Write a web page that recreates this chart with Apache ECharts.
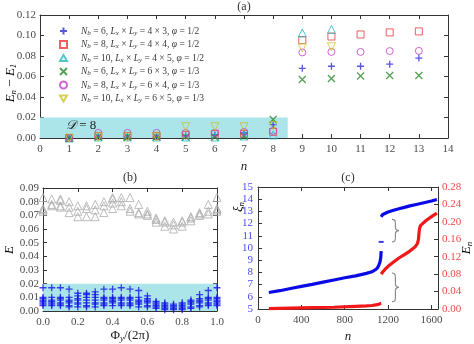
<!DOCTYPE html>
<html><head><meta charset="utf-8">
<script src="https://cdn.jsdelivr.net/npm/echarts@6/dist/echarts.min.js"></script>
<style>html,body{margin:0;padding:0;background:#fff}#c{width:474px;height:344px}</style>
</head><body><div id="c"></div>
<script>
// ---------- Panel (a) ----------
const aN13 = [1,2,3,4,5,6,7,8,9,10,11,12,13];
const aN10 = [1,2,3,4,5,6,7,8,9,10];
const aPlus    = [0,0.001,0.001,0.001,0.002,0.003,0.005,0.013,0.068,0.070,0.070,0.072,0.078];
const aSquare  = [0,0.002,0.002,0.002,0.003,0.004,0.004,0.006,0.0955,0.099,0.101,0.103,0.104];
const aTriUp   = [0,0.001,0.001,0.001,0.001,0.001,0.002,0.003,0.1025,0.106];
const aCross   = [0,0.001,0.001,0.001,0.001,0.001,0.002,0.018,0.057,0.058,0.0605,0.061,0.061];
const aCircle  = [0,0.005,0.005,0.005,0.005,0.005,0.006,0.007,0.0835,0.084,0.084,0.0848,0.085];
const aTriDown = [0,0.001,0.001,0.001,0.011,0.011,0.011,0.012,0.088,0.089];
const aNames = ['6,4,3,1/2','8,4,4,1/2','10,4,5,1/2','6,6,3,1/3','8,6,4,1/3','10,6,5,1/3'];
const aShade = [0, 8.5, 0, 0.02];

// ---------- Panel (b) ----------
const bPhi = [0,0.05,0.1,0.15,0.2,0.25,0.3,0.35,0.4,0.45,0.5,0.55,0.6,0.65,0.7,0.75,0.8,0.85,0.9,0.95,1.0];
const bHigh = [
 [0.083,0.075,0.074,0.073],[0.082,0.078,0.077],[0.082,0.081,0.077,0.076],[0.080,0.076,0.072],
 [0.077,0.073,0.069],[0.077,0.075,0.069],[0.078,0.074,0.069],[0.080,0.077,0.072],
 [0.083,0.082,0.079,0.075],[0.083,0.080,0.077],[0.083,0.075,0.073],[0.078,0.072,0.071],
 [0.073,0.071,0.070],[0.068,0.067,0.065],[0.066,0.065,0.062],[0.065,0.063,0.060],
 [0.066,0.065,0.062],[0.069,0.068,0.066],[0.072,0.071,0.070],[0.078,0.073,0.071],
 [0.083,0.075,0.074,0.073]];
const bLow = [
 [0.017,0.010,0.009,0.008,0.007,0.006,0.005,0.004],[0.017,0.010,0.008,0.007,0.006,0.005,0.004],
 [0.017,0.010,0.009,0.008,0.006,0.005,0.004],[0.016,0.010,0.008,0.007,0.006,0.004,0.003],
 [0.013,0.011,0.009,0.008,0.006,0.005,0.003],[0.013,0.012,0.010,0.008,0.006,0.004,0.003],
 [0.014,0.012,0.010,0.008,0.006,0.005,0.003],[0.016,0.010,0.009,0.008,0.006,0.005,0.004],
 [0.016,0.010,0.009,0.008,0.007,0.006,0.004],[0.017,0.010,0.009,0.008,0.006,0.005,0.004],
 [0.016,0.010,0.009,0.008,0.006,0.005,0.004],[0.015,0.010,0.008,0.007,0.006,0.005,0.003],
 [0.011,0.009,0.008,0.007,0.006,0.004,0.003],[0.007,0.006,0.005,0.004,0.003,0.002],
 [0.006,0.005,0.004,0.003,0.002,0.001],[0.005,0.004,0.003,0.002,0.001],
 [0.006,0.005,0.004,0.003,0.002,0.001],[0.008,0.007,0.006,0.005,0.003,0.002],
 [0.012,0.009,0.008,0.007,0.006,0.004,0.003],[0.015,0.010,0.009,0.008,0.006,0.005,0.004],
 [0.017,0.010,0.009,0.008,0.007,0.006,0.005,0.004]];
const bShade = [0, 1, 0, 0.02];

// ---------- Panel (c) ----------
const cBlueLowN  = [100,200,300,400,500,600,700,800,900,1000,1050,1080,1100,1115,1125,1132,1136];
const cBlueLowXi = [6.35,6.5,6.68,6.85,7.02,7.2,7.38,7.56,7.72,7.92,8.05,8.2,8.35,8.6,8.85,9.2,9.75];
const cBlueMidN  = [1136];
const cBlueMidXi = [10.5];
const cBlueHighN  = [1136,1150,1200,1250,1300,1350,1400,1450,1500,1550,1600,1650];
const cBlueHighXi = [12.55,12.75,12.95,13.1,13.22,13.33,13.45,13.55,13.65,13.75,13.85,13.97];
const cRedLowN = [100,300,500,700,900,1000,1050,1100,1136];
const cRedLowE = [0.001,0.002,0.003,0.004,0.006,0.007,0.008,0.010,0.013];
const cRedHighN = [1136,1150,1175,1200,1250,1300,1350,1400,1450,1470,1480,1485,1490,1500,1550,1600,1650];
const cRedHighE = [0.080,0.085,0.092,0.098,0.108,0.117,0.125,0.133,0.143,0.150,0.160,0.175,0.185,0.192,0.203,0.212,0.220];
const cBraces = [[1235,10.5,12.35],[1235,5.6,7.95]];

// ---------- styling ----------
const FONT = 'Liberation Serif';
const AX = '#333', LBL = '#4a4a4a';
const zip = (xs, ys) => ys.map((y, i) => [xs[i], y]);
const PLUS = 'path://M5,0L5,10M0,5L10,5';
const CROSS = 'path://M0,0L10,10M10,0L0,10';
const TDOWN = 'path://M0,0L10,0L5,8.66Z';
const TUP = 'path://M5,0L10,8.66L0,8.66Z';
const SHADE = '#abe5ea';

function axis(base, extra) {
  return Object.assign({
    type: 'value',
    axisLine: {show: true, onZero: false, lineStyle: {color: AX, width: 1}},
    axisTick: {show: true, inside: true, length: 4, lineStyle: {color: AX}},
    splitLine: {show: false},
    axisLabel: {fontFamily: FONT, fontSize: 11, color: LBL, margin: 6}
  }, base, extra || {});
}
function mirror(base) {
  return axis(base, {axisLabel: {show: false}});
}
const richBase = {
  i: {fontFamily: FONT, fontStyle: 'italic', fontSize: 13, color: '#222'},
  r: {fontFamily: FONT, fontSize: 13, color: '#222'},
  s: {fontFamily: FONT, fontStyle: 'italic', fontSize: 9, color: '#222', verticalAlign: 'bottom', padding: [5, 0, 0, 0]}
};
function richColored(c) {
  return {
    i: Object.assign({}, richBase.i, {color: c}),
    r: Object.assign({}, richBase.r, {color: c}),
    s: Object.assign({}, richBase.s, {color: c})
  };
}
const legRich = {
  i: {fontFamily: FONT, fontStyle: 'italic', fontSize: 9.5, color: '#3a3a3a', lineHeight: 11},
  r: {fontFamily: FONT, fontSize: 9.5, color: '#3a3a3a', lineHeight: 11},
  s: {fontFamily: FONT, fontStyle: 'italic', fontSize: 7, color: '#3a3a3a', lineHeight: 11, verticalAlign: 'bottom', padding: [3, 0, 0, 0]}
};
function legendText(name) {
  const p = name.split(',');
  return '{i|N}{s|b}{r| = ' + p[0] + ', }{i|L}{s|x}{r| × }{i|L}{s|y}{r| = ' + p[1] + ' × ' + p[2] + ', }{i|φ}{r| = ' + p[3] + '}';
}
function hollow(c, w) { return {color: 'rgba(0,0,0,0)', borderColor: c, borderWidth: w || 1}; }

const aColors = ['#2b2bd9', '#e8383d', '#27b9c4', '#2a8a2a', '#c43fc4', '#c9c22a'];
const aSym = [PLUS, 'rect', TUP, CROSS, 'circle', TDOWN];
const aSize = [7, 7, 8, 7, 7, 8];
const aVals = [aPlus, aSquare, aTriUp, aCross, aCircle, aTriDown];
const aXs = [aN13, aN13, aN10, aN13, aN13, aN10];

const series = [];
// shade for (a)
series.push({
  type: 'scatter', xAxisIndex: 0, yAxisIndex: 0, data: [], z: 1, silent: true,
  markArea: {
    silent: true, itemStyle: {color: SHADE},
    label: {show: true, position: [26, 2],
      formatter: '{i|𝒟}{r| = 8}', rich: richBase},
    data: [[{coord: [aShade[0], aShade[2]]}, {coord: [aShade[1], aShade[3]]}]]
  }
});
aNames.forEach((nm, k) => {
  series.push({
    name: nm, type: 'scatter', xAxisIndex: 0, yAxisIndex: 0, z: 3,
    symbol: aSym[k], symbolSize: aSize[k],
    itemStyle: hollow(aColors[k], k === 0 || k === 3 ? 1.3 : 1),
    data: zip(aXs[k], aVals[k])
  });
});
// (b)
series.push({
  type: 'scatter', xAxisIndex: 2, yAxisIndex: 2, data: [], z: 1, silent: true,
  markArea: {silent: true, itemStyle: {color: SHADE},
    data: [[{coord: [bShade[0], bShade[2]]}, {coord: [bShade[1], bShade[3]]}]]}
});
const bHighPts = [], bLowPts = [];
bPhi.forEach((x, i) => {
  bHigh[i].forEach(v => bHighPts.push([x, v]));
  bLow[i].forEach(v => bLowPts.push([x, v]));
});
series.push({type: 'scatter', xAxisIndex: 2, yAxisIndex: 2, z: 3, symbol: TUP, symbolSize: 8,
  itemStyle: hollow('#ababab', 1), data: bHighPts});
series.push({type: 'scatter', xAxisIndex: 2, yAxisIndex: 2, z: 3, symbol: PLUS, symbolSize: 7,
  itemStyle: hollow('#1414e6', 1.3), data: bLowPts});
// (c)
const BLUE = '#0a0ae6', RED = '#f01818';
function cLine(xs, ys, yi, c) {
  return {type: 'line', xAxisIndex: 4, yAxisIndex: yi, showSymbol: false, z: 3,
    lineStyle: {color: c, width: 3.2}, data: zip(xs, ys)};
}
series.push(cLine(cBlueLowN, cBlueLowXi, 4, BLUE));
series.push(cLine(cBlueHighN, cBlueHighXi, 4, BLUE));
series.push({type: 'scatter', xAxisIndex: 4, yAxisIndex: 4, symbol: 'rect', symbolSize: [5, 2],
  itemStyle: {color: BLUE}, data: zip(cBlueMidN, cBlueMidXi)});
series.push(cLine(cRedLowN, cRedLowE, 5, RED));
series.push(cLine(cRedHighN, cRedHighE, 5, RED));
series.push({
  type: 'custom', xAxisIndex: 4, yAxisIndex: 4, data: cBraces, encode: {x: 0, y: [1, 2]},
  renderItem: function (params, api) {
    const top = api.coord([api.value(0), api.value(2)]);
    const bot = api.coord([api.value(0), api.value(1)]);
    const x = top[0], yt = top[1], yb = bot[1], w = 7, r = 3.5;
    const xm = x + w / 2, ym = (yt + yb) / 2;
    const st = {stroke: '#8a8a8a', lineWidth: 1.2, fill: null};
    return {type: 'group', children: [
      {type: 'bezierCurve', shape: {x1: x, y1: yt, cpx1: xm, cpy1: yt, x2: xm, y2: yt + r}, style: st},
      {type: 'line', shape: {x1: xm, y1: yt + r, x2: xm, y2: ym - r}, style: st},
      {type: 'bezierCurve', shape: {x1: xm, y1: ym - r, cpx1: xm, cpy1: ym, x2: x + w, y2: ym}, style: st},
      {type: 'bezierCurve', shape: {x1: x + w, y1: ym, cpx1: xm, cpy1: ym, x2: xm, y2: ym + r}, style: st},
      {type: 'line', shape: {x1: xm, y1: ym + r, x2: xm, y2: yb - r}, style: st},
      {type: 'bezierCurve', shape: {x1: xm, y1: yb - r, cpx1: xm, cpy1: yb, x2: x, y2: yb}, style: st}
    ]};
  }
});

const option = {
  animation: false,
  backgroundColor: '#fff',
  grid: [
    {left: 40, top: 15, width: 408, height: 123},
    {left: 43, top: 188, width: 174, height: 126},
    {left: 258, top: 187, width: 180, height: 125}
  ],
  legend: {
    data: aNames, orient: 'vertical', left: 54, top: 21, itemWidth: 7, itemHeight: 7, itemGap: 3,
    selectedMode: false, formatter: legendText,
    textStyle: {rich: legRich, padding: [0, 0, 0, 9]}
  },
  xAxis: [
    axis({gridIndex: 0, min: 0, max: 14, interval: 1, name: 'n', nameLocation: 'middle', nameGap: 22,
      nameTextStyle: {fontFamily: FONT, fontStyle: 'italic', fontSize: 13, color: '#222'}}),
    mirror({gridIndex: 0, min: 0, max: 14, interval: 1, position: 'top'}),
    axis({gridIndex: 1, min: 0, max: 1, interval: 0.2, name: '{r|Φ}{s|y}{r|/(2π)}', nameLocation: 'middle', nameGap: 18,
      nameTextStyle: {rich: richBase}},
      {axisLabel: {fontFamily: FONT, fontSize: 11, color: LBL, margin: 6, formatter: v => v.toFixed(1)}}),
    mirror({gridIndex: 1, min: 0, max: 1, interval: 0.2, position: 'top'}),
    axis({gridIndex: 2, min: 0, max: 1660, interval: 400, name: 'n', nameLocation: 'middle', nameGap: 21,
      nameTextStyle: {fontFamily: FONT, fontStyle: 'italic', fontSize: 13, color: '#222'}},
      {axisLabel: {fontFamily: FONT, fontSize: 11, color: LBL, margin: 6, formatter: v => (v % 400 === 0 ? String(v) : '')}}),
    mirror({gridIndex: 2, min: 0, max: 1660, interval: 400, position: 'top'})
  ],
  yAxis: [
    axis({gridIndex: 0, min: 0, max: 0.12, interval: 0.02},
      {axisLabel: {fontFamily: FONT, fontSize: 11, color: LBL, margin: 4, formatter: v => v.toFixed(2)}}),
    mirror({gridIndex: 0, min: 0, max: 0.12, interval: 0.02, position: 'right'}),
    axis({gridIndex: 1, min: 0, max: 0.09, interval: 0.01},
      {axisLabel: {fontFamily: FONT, fontSize: 11, color: LBL, margin: 4, formatter: v => v.toFixed(2)}}),
    mirror({gridIndex: 1, min: 0, max: 0.09, interval: 0.01, position: 'right'}),
    axis({gridIndex: 2, min: 5, max: 15, interval: 1},
      {axisLabel: {fontFamily: FONT, fontSize: 11, color: '#4b4bf5', margin: 5}}),
    axis({gridIndex: 2, min: 0, max: 0.28, interval: 0.04, position: 'right'},
      {axisLabel: {fontFamily: FONT, fontSize: 11, color: '#f24848', margin: 4, formatter: v => v.toFixed(2)}})
  ],
  graphic: [
    {type: 'text', x: 244, y: 7, style: {text: '(a)', font: '12px "Liberation Serif"', fill: '#333', align: 'center', verticalAlign: 'middle'}},
    {type: 'text', x: 130, y: 178, style: {text: '(b)', font: '12px "Liberation Serif"', fill: '#333', align: 'center', verticalAlign: 'middle'}},
    {type: 'text', x: 348, y: 178, style: {text: '(c)', font: '12px "Liberation Serif"', fill: '#333', align: 'center', verticalAlign: 'middle'}},
    {type: 'text', x: 11, y: 83, rotation: Math.PI / 2, style: {text: '{i|E}{s|n}{r| − }{i|E}{s|1}', rich: richBase, align: 'center', verticalAlign: 'middle'}},
    {type: 'text', x: 10, y: 250, rotation: Math.PI / 2, style: {text: '{i|E}', rich: richBase, align: 'center', verticalAlign: 'middle'}},
    {type: 'text', x: 239, y: 207, rotation: Math.PI / 2, style: {text: '{i|ξ}{s|n}', rich: richColored('#4b4bf5'), align: 'center', verticalAlign: 'middle'}},
    {type: 'text', x: 467, y: 248, rotation: Math.PI / 2, style: {text: '{i|E}{s|n}', rich: richColored('#f24848'), align: 'center', verticalAlign: 'middle'}}
  ],
  series: series
};
const chart = echarts.init(document.getElementById('c'), null, {renderer: 'canvas'});
chart.setOption(option);
</script></body></html>
